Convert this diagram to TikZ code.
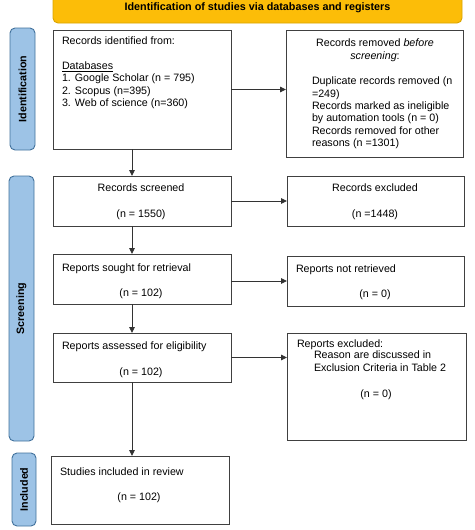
\documentclass[tikz,border=0pt]{standalone}
\usepackage{fontspec}
\setmainfont{Liberation Sans}
\usetikzlibrary{arrows.meta}
\definecolor{hdrfill}{HTML}{FCBD08}
\definecolor{hdrline}{HTML}{D9A400}
\definecolor{labfill}{HTML}{9DC3E6}
\definecolor{labline}{HTML}{41719C}
\newcommand{\fsz}{\fontsize{10.7}{12.4}\selectfont}
\tikzset{
  box/.style={draw=black!75, line width=0.9pt, inner sep=0pt, outer sep=0pt, rectangle},
  lab/.style={draw=labline, fill=labfill, line width=0.9pt, rounded corners=5pt, rotate=90, inner sep=0pt, outer sep=0pt, font=\fsz\bfseries},
  hdr/.style={draw=hdrline, fill=hdrfill, line width=0.9pt, rounded corners=5pt, inner sep=0pt, font=\fontsize{10.8}{12}\selectfont\bfseries},
  txt/.style={inner sep=0pt, outer sep=0pt, font=\fsz},
  arr/.style={draw=black!80, line width=0.9pt, -{Triangle[length=6pt,width=5.5pt]}}
}
\begin{document}
\begin{tikzpicture}[x=1pt,y=-1pt]
\useasboundingbox (0,0) rectangle (474,530);
\clip (0,0) rectangle (474,530);
% header
\node[hdr, minimum width=409pt, minimum height=30pt] (hd) at (257.5,8) {Identification of studies via databases and registers};
% side labels
\node[lab, minimum width=122pt, minimum height=25pt] (lid) at (22.5,89) {Identification};
\node[lab, minimum width=265pt, minimum height=25pt] (lsc) at (21.5,308.5) {Screening};
\node[lab, minimum width=73pt, minimum height=24pt] (lin) at (24,489.5) {Included};
% boxes
\node[box, minimum width=178pt, minimum height=119pt] (b1) at (142,89.5) {};
\node[box, minimum width=177pt, minimum height=127pt] (b2) at (374.5,93.5) {};
\node[box, minimum width=178pt, minimum height=50pt] (scr) at (142,201) {};
\node[box, minimum width=177pt, minimum height=50pt] (exc) at (375.5,201) {};
\node[box, minimum width=178pt, minimum height=50pt] (sou) at (142,279) {};
\node[box, minimum width=177pt, minimum height=50pt] (nr) at (375.5,281) {};
\node[box, minimum width=178pt, minimum height=49pt] (ass) at (142,357.5) {};
\node[box, minimum width=179pt, minimum height=107pt] (rex) at (376.5,386.5) {};
\node[box, minimum width=178pt, minimum height=68pt] (inc) at (140,490) {};
% texts
\node[txt, anchor=north west, align=left] (t1) at (62,37) {Records identified from:\\[12.4pt]\underline{Databases}\\1. Google Scholar (n = 795)\\2. Scopus (n=395)\\3. Web of science (n=360)};
\node[txt, anchor=north, align=center] (t2a) at (375,39) {Records removed \textit{before}\\\textit{screening}:};
\node[txt, anchor=north west, align=left] (t2b) at (312,77) {Duplicate records removed (n\\=249)\\Records marked as ineligible\\by automation tools (n = 0)\\Records removed for other\\reasons (n =1301)};
\node[txt, anchor=base] (scrA) at (141,191) {Records screened};
\node[txt, anchor=base] (scrB) at (141,217) {(n = 1550)};
\node[txt, anchor=base] (excA) at (375,191) {Records excluded};
\node[txt, anchor=base] (excB) at (375,217) {(n =1448)};
\node[txt, anchor=base west] (souA) at (62,271) {Reports sought for retrieval};
\node[txt, anchor=base] (souB) at (141,296) {(n = 102)};
\node[txt, anchor=base west] (nrA) at (296,272) {Reports not retrieved};
\node[txt, anchor=base] (nrB) at (375,297) {(n = 0)};
\node[txt, anchor=base west] (assA) at (62,349) {Reports assessed for eligibility};
\node[txt, anchor=base] (assB) at (141,375) {(n = 102)};
\node[txt, anchor=base west] (rexA) at (297,347) {Reports excluded:};
\node[txt, anchor=north west, align=left] (rexB) at (314,351) {Reason are discussed in\\Exclusion Criteria in Table 2};
\node[txt, anchor=base] (rexC) at (376,397) {(n = 0)};
\node[txt, anchor=base west] (incA) at (60,475) {Studies included in review};
\node[txt, anchor=base] (incB) at (139,500) {(n = 102)};
% connectors
\coordinate (ax) at (132,0);
\draw[arr] (b1.east) -- (b2.west |- b1.east);
\draw[arr] (scr.east) -- (exc.west |- scr.east);
\draw[arr] (nr.west -| sou.east) -- (nr.west);
\draw[arr] (ass.east) -- (rex.west |- ass.east);
\draw[arr] (b1.south -| ax) -- (scr.north -| ax);
\draw[arr] (scr.south -| ax) -- (sou.north -| ax);
\draw[arr] (sou.south -| ax) -- (ass.north -| ax);
\draw[arr] (ass.south -| ax) -- (inc.north -| ax);
\end{tikzpicture}
\end{document}
